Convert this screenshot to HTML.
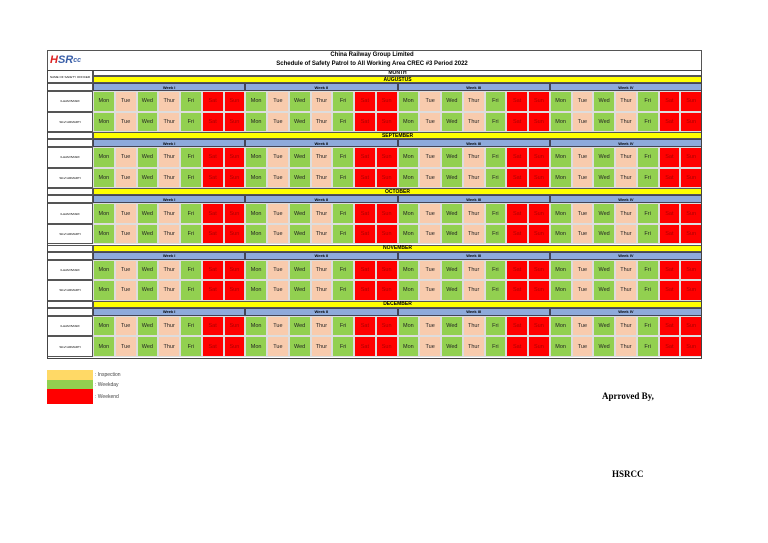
<!DOCTYPE html>
<html><head><meta charset="utf-8">
<style>
body{margin:0;width:768px;height:543px;background:#fff;position:relative;overflow:hidden;font-family:"Liberation Sans",sans-serif}
.a{position:absolute;box-sizing:border-box;display:flex;align-items:center;justify-content:center;white-space:nowrap}
</style></head><body>
<div class="a" style="left:47px;top:50px;width:655px;height:21px;border:1px solid #555"></div>
<div class="a" style="left:50px;top:52px;width:55px;height:16px;font-style:italic;font-weight:bold;font-size:11px;color:#3a5fa8;justify-content:flex-start"><span style="color:#d22">H</span>SR<span style="font-size:7px">cc</span></div>
<div class="a" style="left:297px;top:51px;width:150px;height:8px;font-size:6px;font-weight:bold">China Railway Group Limited</div>
<div class="a" style="left:247px;top:59px;width:250px;height:9px;font-size:6px;font-weight:bold">Schedule of Safety Patrol to All Working Area CREC #3 Period 2022</div>
<div id="t"></div>
<div class="a" style="left:47px;top:370px;width:46px;height:10px;background:#ffd966"></div>
<div class="a" style="left:47px;top:380px;width:46px;height:9px;background:#92d050"></div>
<div class="a" style="left:47px;top:389px;width:46px;height:15px;background:#ff0000"></div>
<div class="a" style="left:95px;top:370px;height:10px;font-size:5px;color:#444">: Inspection</div>
<div class="a" style="left:95px;top:380px;height:9px;font-size:5px;color:#444">: Weekday</div>
<div class="a" style="left:95px;top:391px;height:12px;font-size:5px;color:#444">: Weekend</div>
<div class="a" style="left:602px;top:390px;height:12px;font-family:'Liberation Serif',serif;font-weight:bold;font-size:9px">Aprroved By,</div>
<div class="a" style="left:612px;top:468px;height:12px;font-family:'Liberation Serif',serif;font-weight:bold;font-size:9px">HSRCC</div>
<script>
const months=["AUGUSTUS","SEPTEMBER","OCTOBER","NOVEMBER","DECEMBER"];
const weeks=["Week I","Week II","Week III","Week IV"];
const days=["Mon","Tue","Wed","Thur","Fri","Sat","Sun"];
const dayColors=["#92d050","#f8cbad","#92d050","#f8cbad","#92d050","#ff0000","#ff0000"];
const officers=["ILHAM BASRI","SILVI ARMARTI"];
const T=document.getElementById('t');
function box(n,x,y,w,h,st,txt){const e=document.createElement('div');e.className='a';


e.style.cssText=`left:${x}px;top:${y}px;width:${w}px;height:${h}px;`+st;if(txt)e.textContent=txt;T.appendChild(e);return e;}
const X0=93,X1=702,DW=(X1-X0)/28;
box('name-header',47,70,46,13,'border:1px solid #555;font-size:3px','NAME OF SAFETY OFFICER');
box('month-header',X0,70,X1-X0,6,'border:1px solid #555;font-size:5px;font-weight:bold','MONTH');
months.forEach((m,i)=>{const y=76+i*56.2;
 if(i>0)box('month-blank',47,y,46,7,'border:1px solid #555');
 box('month-'+m.toLowerCase(),X0,y,X1-X0,7,'background:#ffff00;border:1px solid #555;font-size:5px;font-weight:bold',m);
 box('week-blank',47,y+7,46,8,'border:1px solid #555');
 weeks.forEach((w,k)=>box('week-label',X0+k*7*DW,y+7,7*DW,8,'background:#8eaadb;border:1px solid #445;font-size:4px;font-weight:bold',w));
 officers.forEach((o,r)=>{const ry=y+15+r*20.5;
  box('officer-name',47,ry,46,20.5,'border:1px solid #555;font-size:3px',o);
  for(let c=0;c<28;c++){const di=c%7;
   box('day-cell',X0+c*DW,ry,DW,20.5,'background:'+dayColors[di]+';font-size:5.5px;color:'+(di>4?'#a00':'#222')+';border:1px solid #ddd',days[di]);}
 });
});
box('table-outline',47,70,X1-47,289,'border:1px solid #444');
</script>
</body></html>
